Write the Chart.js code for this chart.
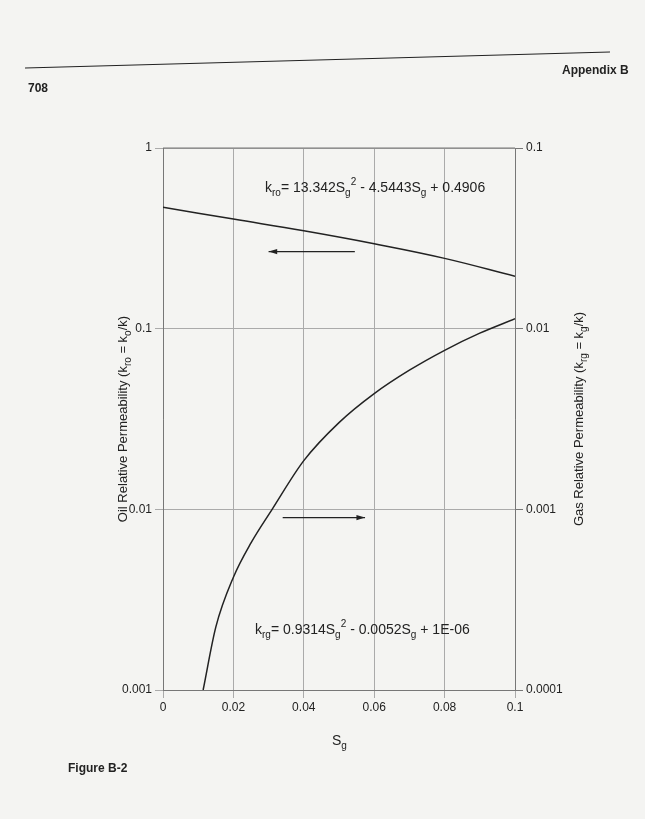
<!DOCTYPE html>
<html>
<head>
<meta charset="utf-8">
<script src="https://cdn.jsdelivr.net/npm/chart.js@4/dist/chart.umd.min.js"></script>
<style>
  html, body { margin: 0; padding: 0; background: #f4f4f2; }
  #wrap { width: 645px; height: 819px; position: relative; }
</style>
</head>
<body>
<div id="wrap"><canvas id="chart"></canvas></div>
<script>
// values
const SG_OIL = [0, 0.02, 0.04, 0.06, 0.08, 0.1];
const KRO = [0.47, 0.404, 0.348, 0.295, 0.245, 0.195];
const SG_GAS = [0.0114, 0.015, 0.02, 0.025, 0.031, 0.04, 0.05, 0.06, 0.07, 0.08, 0.09, 0.1];
const KRG = [0.0001, 0.000223, 0.000421, 0.000652, 0.001, 0.00186, 0.00302, 0.00437, 0.00589, 0.00759, 0.00944, 0.01135];
const X_TICKS = [0, 0.02, 0.04, 0.06, 0.08, 0.1];
const LEFT_TICKS = [0.001, 0.01, 0.1, 1];
const RIGHT_TICKS = [0.0001, 0.001, 0.01, 0.1];

const INK = '#222';
const FONT = '"Liberation Sans Narrow", "Liberation Sans", Arial, sans-serif';

function subText(ctx, x, y, parts, size = 14) {
  parts.forEach(([t, mode]) => {
    ctx.font = (mode === 'n' ? size + 'px ' : '10px ') + FONT;
    const dy = mode === 'sub' ? 4 : mode === 'sup' ? -7 : 0;
    ctx.fillText(t, x, y + dy);
    x += ctx.measureText(t).width;
  });
  return x;
}

function textWidth(ctx, parts, size = 14) {
  let w = 0;
  parts.forEach(([t, m]) => { ctx.font = (m === 'n' ? size + 'px ' : '10px ') + FONT; w += ctx.measureText(t).width; });
  return w;
}

function arrow(ctx, x1, y1, x2, y2) {
  ctx.beginPath();
  ctx.moveTo(x1, y1);
  ctx.lineTo(x2, y2);
  ctx.stroke();
  const a = Math.atan2(y2 - y1, x2 - x1);
  ctx.beginPath();
  ctx.moveTo(x2, y2);
  ctx.lineTo(x2 - 9 * Math.cos(a - 0.3), y2 - 9 * Math.sin(a - 0.3));
  ctx.lineTo(x2 - 9 * Math.cos(a + 0.3), y2 - 9 * Math.sin(a + 0.3));
  ctx.closePath();
  ctx.fill();
}

function verticalTitle(ctx, cx, cy, parts) {
  ctx.save();
  ctx.translate(cx, cy);
  ctx.rotate(-Math.PI / 2);
  subText(ctx, -textWidth(ctx, parts, 13) / 2, 0, parts, 13);
  ctx.restore();
}

const pagePlugin = {
  id: 'page',
  afterDraw(chart) {
    const { ctx, scales } = chart;
    const x = scales.x, yl = scales.yl;
    ctx.save();
    ctx.fillStyle = INK;
    ctx.strokeStyle = INK;
    ctx.lineWidth = 1.2;

    // header
    ctx.beginPath();
    ctx.moveTo(25, 68);
    ctx.lineTo(610, 52);
    ctx.stroke();
    ctx.font = 'bold 12px ' + FONT;
    ctx.fillText('708', 28, 92);
    ctx.fillText('Appendix B', 562, 74);
    ctx.fillText('Figure B-2', 68, 772);

    // equations
    subText(ctx, 265, 192, [['k', 'n'], ['ro', 'sub'], ['= 13.342S', 'n'], ['g', 'sub'], ['2', 'sup'], [' - 4.5443S', 'n'], ['g', 'sub'], [' + 0.4906', 'n']]);
    subText(ctx, 255, 634, [['k', 'n'], ['rg', 'sub'], ['= 0.9314S', 'n'], ['g', 'sub'], ['2', 'sup'], [' - 0.0052S', 'n'], ['g', 'sub'], [' + 1E-06', 'n']]);

    // arrows
    arrow(ctx, x.getPixelForValue(0.0545), yl.getPixelForValue(0.267), x.getPixelForValue(0.030), yl.getPixelForValue(0.267));
    arrow(ctx, x.getPixelForValue(0.034), yl.getPixelForValue(0.009), x.getPixelForValue(0.0574), yl.getPixelForValue(0.009));

    // axis titles
    subText(ctx, 332, 745, [['S', 'n'], ['g', 'sub']]);
    verticalTitle(ctx, 127, 419, [['Oil Relative Permeability (k', 'n'], ['ro', 'sub'], [' = k', 'n'], ['o', 'sub'], ['/k)', 'n']]);
    verticalTitle(ctx, 583, 419, [['Gas Relative Permeability (k', 'n'], ['rg', 'sub'], [' = k', 'n'], ['g', 'sub'], ['/k)', 'n']]);
    ctx.restore();
  },
};

const tickFont = { family: FONT, size: 12 };

new Chart(document.getElementById('chart'), {
  type: 'line',
  data: {
    datasets: [
      {
        label: 'kro',
        data: SG_OIL.map((s, i) => ({ x: s, y: KRO[i] })),
        yAxisID: 'yl',
        borderColor: INK,
        borderWidth: 1.5,
        pointRadius: 0,
        tension: 0.4,
      },
      {
        label: 'krg',
        data: SG_GAS.map((s, i) => ({ x: s, y: KRG[i] })),
        yAxisID: 'yr',
        borderColor: INK,
        borderWidth: 1.5,
        pointRadius: 0,
        cubicInterpolationMode: 'monotone',
      },
    ],
  },
  options: {
    responsive: true,
    maintainAspectRatio: false,
    animation: false,
    layout: { padding: { top: 148, left: 0, right: 0, bottom: 0 } },
    plugins: { legend: { display: false }, tooltip: { enabled: false } },
    scales: {
      x: {
        type: 'linear',
        min: 0,
        max: 0.1,
        afterFit(s) { s.height = 129; },
        afterBuildTicks(s) { s.ticks = X_TICKS.map((v) => ({ value: v })); },
        grid: { color: '#aaa', tickLength: 8 },
        border: { color: '#777' },
        ticks: { color: INK, font: tickFont, padding: 2, callback: (v) => String(v) },
      },
      yl: {
        type: 'logarithmic',
        position: 'left',
        min: 0.001,
        max: 1,
        afterFit(s) { s.width = 163; },
        afterBuildTicks(s) { s.ticks = LEFT_TICKS.map((v) => ({ value: v })); },
        grid: { color: '#aaa', tickLength: 8 },
        border: { color: '#777' },
        ticks: { color: INK, font: tickFont, padding: 3, callback: (v) => String(v) },
      },
      yr: {
        type: 'logarithmic',
        position: 'right',
        min: 0.0001,
        max: 0.1,
        afterFit(s) { s.width = 130; },
        afterBuildTicks(s) { s.ticks = RIGHT_TICKS.map((v) => ({ value: v })); },
        grid: { drawOnChartArea: false, color: '#777', tickLength: 8 },
        border: { color: '#777' },
        ticks: { color: INK, font: tickFont, padding: 3, callback: (v) => String(v) },
      },
    },
  },
  plugins: [
    {
      id: 'topBorder',
      afterDraw(chart) {
        const { ctx, chartArea: a } = chart;
        ctx.save();
        ctx.strokeStyle = '#777';
        ctx.beginPath();
        ctx.moveTo(a.left, a.top);
        ctx.lineTo(a.right, a.top);
        ctx.stroke();
        ctx.restore();
      },
    },
    pagePlugin,
  ],
});
</script>
</body>
</html>
